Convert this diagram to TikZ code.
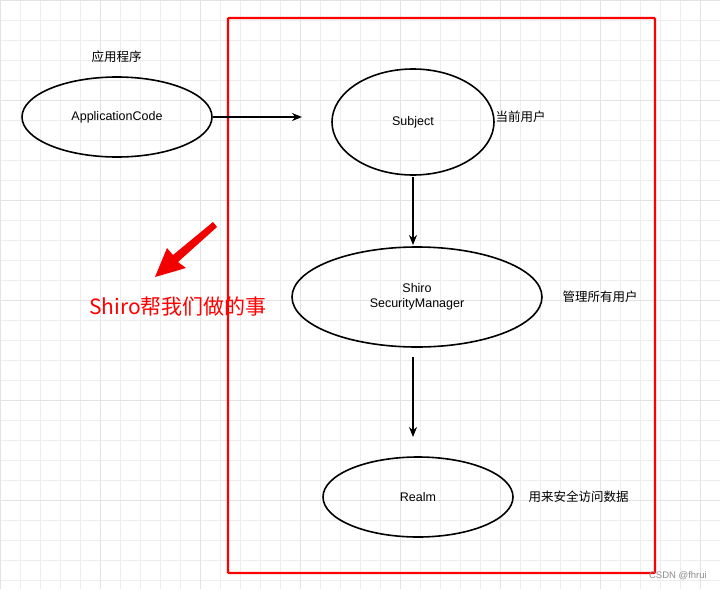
\documentclass[tikz,border=0pt]{standalone}
\usepackage{fontspec}
\setmainfont{Liberation Sans}
\newfontfamily\cjk{Noto Sans CJK SC}
\usetikzlibrary{arrows.meta,shapes.geometric}
\begin{document}
\begin{tikzpicture}[x=1pt,y=-1pt,
  ell/.style={draw,line width=1.6pt,ellipse,inner sep=0pt,font=\fontsize{12.5}{15}\selectfont,align=center},
  conn/.style={line width=1.6pt,-{Stealth[length=10pt,width=8pt]}},
  note/.style={font=\cjk\fontsize{12.5}{15}\selectfont,anchor=west}]
\useasboundingbox (0,0) rectangle (720,589);
\fill[white] (0,0) rectangle (720,589);
\draw[black!7,line width=0.5pt] (0,0) grid[step=20pt] (720,589);
\draw[black!11,line width=0.7pt] (0,0) grid[step=100pt] (720,589);
\draw[draw=red,line width=2.2pt,rounded corners=1pt] (228,18) rectangle (655,573);
\node[ell,minimum width=190pt,minimum height=80pt] (app) at (117,117) {ApplicationCode};
\node[ell,minimum width=162pt,minimum height=106pt] (sub) at (413,122) {Subject};
\node[ell,minimum width=250pt,minimum height=100pt] (sm) at (417,297) {Shiro\\SecurityManager};
\node[ell,minimum width=190pt,minimum height=80pt] (realm) at (418,497) {Realm};
\coordinate (a1) at (302,117);
\coordinate (s1) at (413,177);
\coordinate (s2) at (413,245);
\coordinate (m1) at (413,357);
\coordinate (m2) at (413,437);
\draw[conn] (app.east) -- (a1);
\draw[conn] (s1) -- (s2);
\draw[conn] (m1) -- (m2);
\node[note] (n0) at (88,57) {应用程序};
\node[note] (n1) at (492,117) {当前用户};
\node[note] (n2) at (559,297) {管理所有用户};
\node[note] (n3) at (525,497) {用来安全访问数据};
\fill[red!95!black] (213,222) -- (217,227) -- (178,262) -- (186,268) -- (155,277) -- (167,248) -- (173,255) -- cycle;
\node[font=\cjk\fontsize{21}{24}\selectfont,text=red,anchor=west,inner sep=0pt] (lab) at (89,307) {Shiro帮我们做的事};
\node[font=\fontsize{9.5}{11}\selectfont,text=black!45,anchor=east,inner sep=0pt] (wm) at (707,576) {CSDN @fhrui};
\end{tikzpicture}
\end{document}
